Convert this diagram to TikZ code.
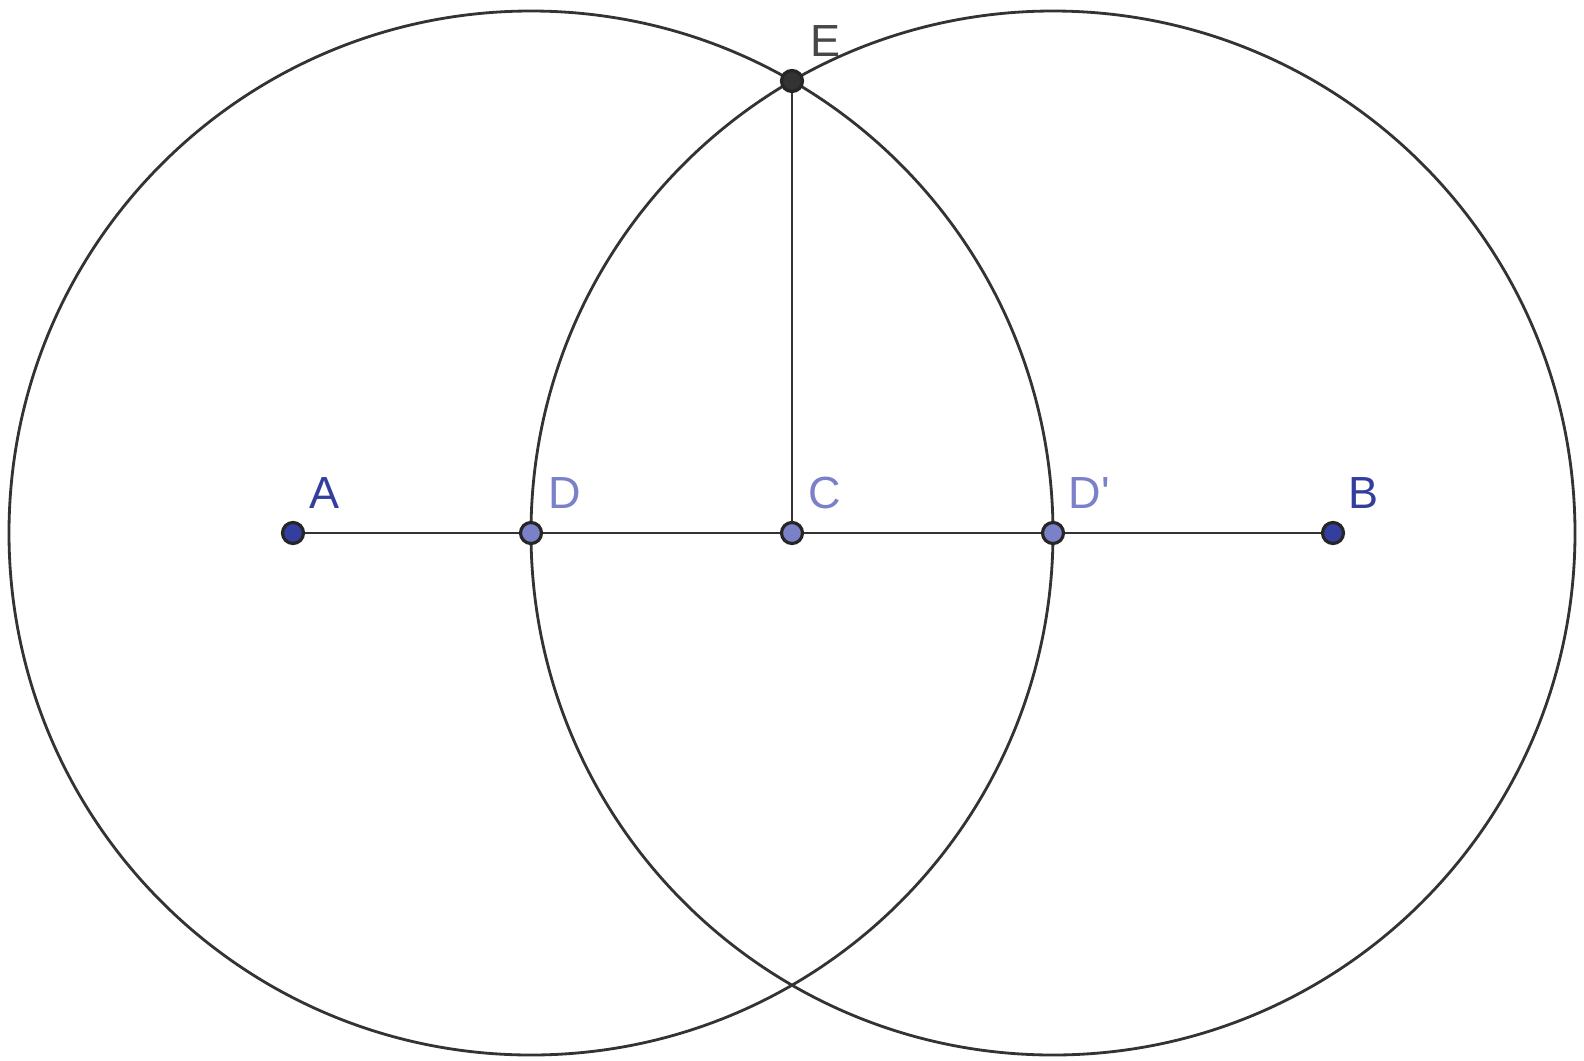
\documentclass[tikz,border=0pt]{standalone}
\usepackage{fontspec}
\setmainfont{Liberation Sans}
\usetikzlibrary{calc}

\definecolor{freeblue}{RGB}{52,62,158}
\definecolor{depblue}{RGB}{122,129,200}
\definecolor{ink}{RGB}{51,51,51}

\tikzset{
  free point/.style = {circle, draw=black!85, line width=0.9pt, fill=freeblue, inner sep=0pt, minimum size=0.21cm},
  dep point/.style  = {free point, fill=depblue},
  top point/.style  = {free point, fill=ink},
  pt label/.style   = {anchor=base west, inner sep=0pt, font=\fontsize{12.8}{15}\selectfont}
}

\begin{document}
\begin{tikzpicture}[x=0.01cm, y=-0.01cm]
% picture drawn in pixel units of the original figure, y axis going down
\useasboundingbox (0,0) rectangle (1584,1060);

% Reference points
\coordinate (A)  at (293, 533);
\coordinate (B)  at (1333, 533);
\coordinate (D)  at (531, 533);       % (centre of left circle)
\coordinate (D') at (1053, 533);      % (centre of right circle)
\coordinate (C)  at ($(D)!.5!(D')$);
\coordinate (E)  at ($(C)+(0,-452)$);  % (upper crossing of the circles)

% Circles through each other's centre
\draw [ink, line width=0.8pt] (D)  circle (522);
\draw [ink, line width=0.8pt] (D') circle (522);

% Segments
\draw [ink, line width=0.8pt] (A) -- (B);
\draw [ink, line width=0.8pt] (E) -- (C);

% Points
\node [free point] (pA)  at (A)  {};
\node [free point] (pB)  at (B)  {};
\node [dep point]  (pD)  at (D)  {};
\node [dep point]  (pC)  at (C)  {};
\node [dep point]  (pD') at (D') {};
\node [top point]  (pE)  at (E)  {};

% labels
\node [pt label, text=freeblue] (lA)  at ([shift={(16,-25)}]A)  {A};
\node [pt label, text=freeblue] (lB)  at ([shift={(15,-25)}]B)  {B};
\node [pt label, text=depblue]  (lD)  at ([shift={(17,-25)}]D)  {D};
\node [pt label, text=depblue]  (lC)  at ([shift={(16,-25)}]C)  {C};
\node [pt label, text=depblue]  (lD') at ([shift={(15,-25)}]D') {D\textquotesingle};
\node [pt label, text=ink!90]   (lE)  at ([shift={(18,-25)}]E)  {E};

\end{tikzpicture}
\end{document}
